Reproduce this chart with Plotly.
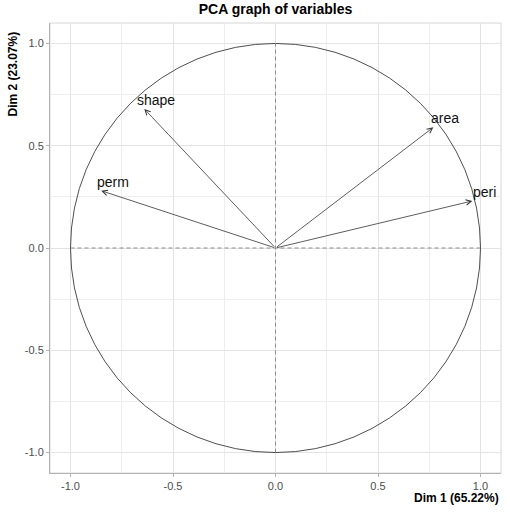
import plotly.graph_objects as go

# variable coordinates on Dim 1 / Dim 2
var_names = ["shape", "perm", "area", "peri"]
dim1 = [-0.64, -0.85, 0.77, 0.96]
dim2 = [0.68, 0.28, 0.59, 0.23]

tick_vals = [-1.0, -0.5, 0.0, 0.5, 1.0]
tick_text = ["-1.0", "-0.5", "0.0", "0.5", "1.0"]

title_txt = "PCA graph of variables"
xlab = "Dim 1 (65.22%)"
ylab = "Dim 2 (23.07%)"

fig = go.Figure()

# invisible points so the axes have data
fig.add_trace(go.Scatter(x=dim1, y=dim2, mode="markers",
                         marker=dict(size=1, color="rgba(0,0,0,0)"),
                         hoverinfo="skip", showlegend=False))

# unit circle and the two dashed reference lines
fig.add_shape(type="circle", xref="x", yref="y", x0=-1, y0=-1, x1=1, y1=1,
              line=dict(color="#222222", width=0.8))
fig.add_shape(type="line", xref="x", yref="y", x0=-1, y0=0, x1=1, y1=0,
              line=dict(color="#8c8c8c", width=1, dash="4px,3px"))
fig.add_shape(type="line", xref="x", yref="y", x0=0, y0=-1, x1=0, y1=1,
              line=dict(color="#8c8c8c", width=1, dash="4px,3px"))

# arrows from the origin and the variable names
for name, a, b in zip(var_names, dim1, dim2):
    fig.add_annotation(x=a, y=b, xref="x", yref="y",
                       ax=0, ay=0, axref="x", ayref="y",
                       text="", showarrow=True,
                       arrowhead=5, arrowsize=1.3, arrowwidth=0.8,
                       arrowcolor="#333333", standoff=0, startstandoff=0)
    fig.add_annotation(x=a, y=b, xref="x", yref="y", text=name,
                       showarrow=False, xanchor="center", yanchor="middle",
                       xshift=12, yshift=9,
                       font=dict(family="Liberation Sans, Arial", size=14, color="#111111"))

# axis titles placed like ggplot (right / top aligned)
fig.add_annotation(x=1, y=0, xref="paper", yref="paper", text="<b>" + xlab + "</b>",
                   showarrow=False, xanchor="right", yanchor="top", yshift=-16,
                   font=dict(family="Liberation Sans, Arial", size=12, color="black"))
fig.add_annotation(x=0, y=1, xref="paper", yref="paper", text="<b>" + ylab + "</b>",
                   showarrow=False, textangle=-90, xanchor="right", yanchor="top",
                   xshift=-29, yshift=-7,
                   font=dict(family="Liberation Sans, Arial", size=12, color="black"))

# panel border on top / right
fig.add_shape(type="rect", xref="paper", yref="paper", x0=0, y0=0, x1=1, y1=1,
              line=dict(color="#d6d6d6", width=1), layer="below")

axis_style = dict(
    tickvals=tick_vals, ticktext=tick_text, range=[-1.1, 1.1],
    showgrid=True, gridcolor="#e3e3e3", gridwidth=1,
    minor=dict(dtick=0.25, tick0=0, showgrid=True, gridcolor="#eeeeee", gridwidth=0.6),
    zeroline=False, showline=True, linecolor="#b3b3b3", linewidth=1,
    ticks="outside", ticklen=3, tickcolor="#b3b3b3",
    tickfont=dict(family="Liberation Sans, Arial", size=11, color="#4d4d4d"),
)

fig.update_layout(
    width=510, height=512,
    margin=dict(l=50, r=9, t=23, b=39),
    plot_bgcolor="white", paper_bgcolor="white",
    title=dict(text="<b>" + title_txt + "</b>", x=0.5, xref="paper",
               y=0.982, yanchor="middle",
               font=dict(family="Liberation Sans, Arial", size=14, color="black")),
    xaxis=dict(axis_style),
    yaxis=dict(axis_style),
    showlegend=False,
)

# page body margin would push the figure 8px down/right
fig.write_html("out.html", config={"displayModeBar": False},
               post_script="document.body.style.margin='0';")
